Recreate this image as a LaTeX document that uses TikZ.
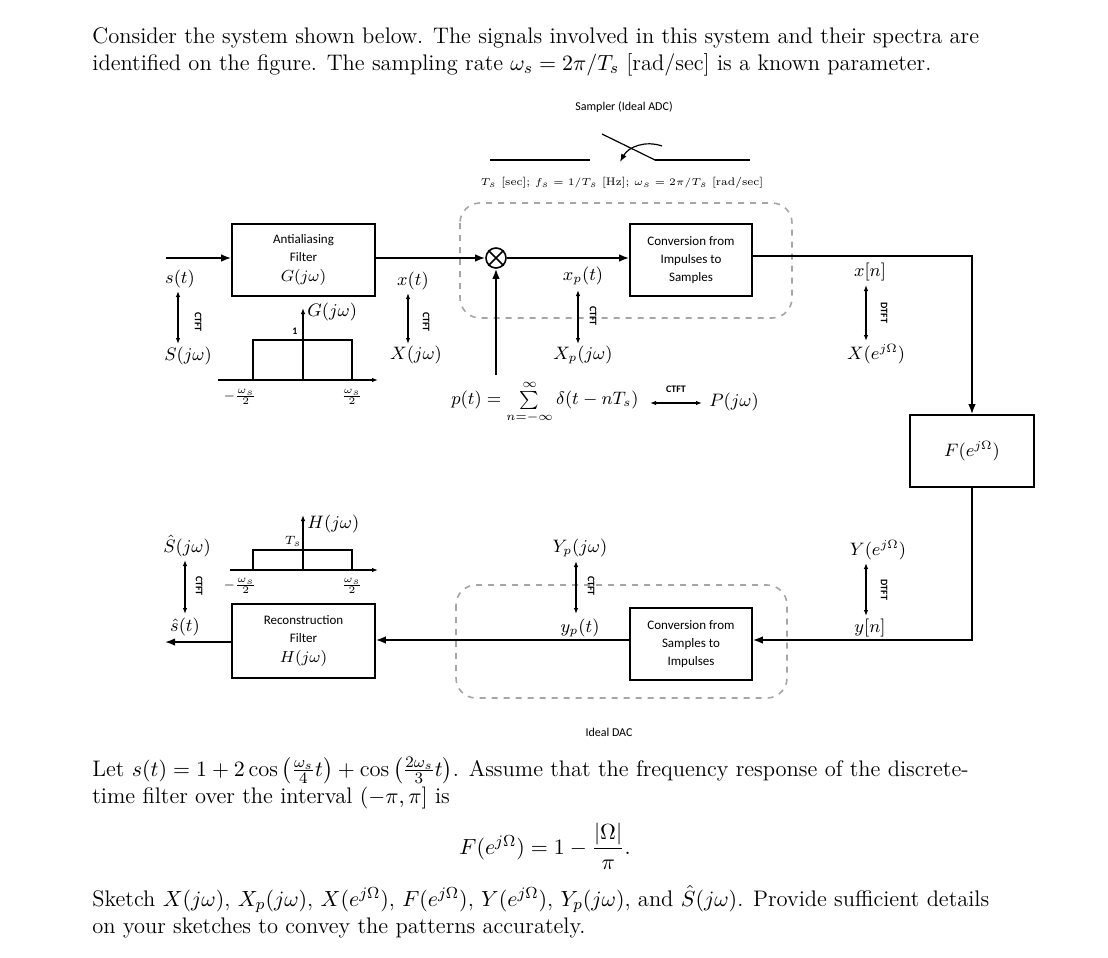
\documentclass[tikz,border=0pt]{standalone}
\usepackage{amsmath}
\usepackage{fontspec}
\newfontfamily\dsans{Carlito}
\usetikzlibrary{arrows.meta}
\tikzset{
  blk/.style={draw, thick, minimum width=71.5pt, minimum height=36pt, align=center, font=\dsans\fontsize{6.5}{9}\selectfont, inner sep=0pt},
  dashbox/.style={draw=gray!70, dashed, thick, rounded corners=10pt},
  sig/.style={thick, -{Latex[length=5pt]}},
  tf/.style={semithick, {Latex[length=3pt]}-{Latex[length=3pt]}},
  lbl/.style={font=\dsans\fontsize{9}{10}\selectfont, inner sep=0pt},
  tflbl/.style={font=\dsans\bfseries\fontsize{5}{6}\selectfont, rotate=-90, inner sep=0pt},
  txt/.style={anchor=base west, inner sep=0pt, font=\fontsize{11.25}{13}\selectfont}
}
\begin{document}
\begin{tikzpicture}[x=0.5pt, y=-0.5pt]
\useasboundingbox (0,0) rectangle (1108,958);
% problem text
\node[txt] (t1) at (92,43) {Consider the system shown below. The signals involved in this system and their spectra are};
\node[txt] (t2) at (92,70) {identified on the figure. The sampling rate $\omega_s=2\pi/T_s$ [rad/sec] is a known parameter.};

% sampler switch
\node[font=\dsans\fontsize{6}{7}\selectfont] (adc) at (624,107) {Sampler (Ideal ADC)};
\draw[thick] (490,160) -- (590,160);
\draw[thick] (655,160) -- (750,160);
\draw[semithick] (602,134) -- (655,160);
\draw[semithick, -{Latex[length=4pt]}] (662,146) to[bend right=40] (620,162);
\node[font=\fontsize{5.5}{7}\selectfont] (ts) at (622,183) {$T_s$ [sec]; $f_s=1/T_s$ [Hz]; $\omega_s=2\pi/T_s$ [rad/sec]};

% dashed groups
\draw[dashbox] (460,203) rectangle (792,318);
\draw[dashbox] (456,585) rectangle (787,698);
\node[font=\dsans\fontsize{6}{7}\selectfont] (dac) at (609,732) {Ideal DAC};

% blocks
\node[blk] (aaf) at (303.5,260) {Antialiasing\\Filter\\[1pt]{\fontsize{8.5}{9}\selectfont$G(j\omega)$}};
\node[blk, minimum width=61pt] (i2s) at (691,260) {Conversion from\\Impulses to\\Samples};
\node[blk, minimum width=62pt] (F) at (972,451) {\fontsize{9}{10}\selectfont$F(e^{j\Omega})$};
\node[blk, minimum width=61pt] (s2i) at (691,644) {Conversion from\\Samples to\\Impulses};
\node[blk, minimum height=37pt] (rec) at (303.5,641) {Reconstruction\\Filter\\[1pt]{\fontsize{8.5}{9}\selectfont$H(j\omega)$}};
\node[draw, circle, thick, minimum size=10pt, inner sep=0pt] (mul) at (496,258) {};
\draw[thick] (mul.north west) -- (mul.south east) (mul.north east) -- (mul.south west);

% signal path
\coordinate (in) at (166,258);
\coordinate (pt) at (496,375);
\coordinate (c1) at (972,256);
\coordinate (c2) at (972,640);
\coordinate (out) at (165,642);
\draw[sig] (in) -- (aaf.west |- in);
\draw[sig] (aaf.east |- mul) -- (mul.west);
\draw[sig] (mul.east) -- (i2s.west |- mul);
\draw[sig] (pt) -- (mul.south);
\draw[sig] (i2s.east |- c1) -- (c1) -- (F.north);
\draw[sig] (F.south) -- (c2) -- (s2i.east |- c2);
\draw[sig] (s2i.west |- c2) -- (rec.east |- c2);
\draw[sig] (rec.west |- out) -- (out);

% transform pairs
\node[lbl] (st) at (180,279) {$s(t)$};
\node[lbl] (Sw) at (188,356) {$S(j\omega)$};
\draw[tf] (178,291) -- (178,344); \node[tflbl] at (198,322) {CTFT};
\node[lbl] (xt) at (413,281) {$x(t)$};
\node[lbl] (Xw) at (416,355) {$X(j\omega)$};
\draw[tf] (408,293) -- (408,344); \node[tflbl] at (426,322) {CTFT};
\node[lbl] (xpt) at (583,276) {$x_p(t)$};
\node[lbl] (Xpw) at (583,355) {$X_p(j\omega)$};
\draw[tf] (578,290) -- (578,344); \node[tflbl] at (593,316) {CTFT};
\node[lbl] (xn) at (870,272) {$x[n]$};
\node[lbl] (XO) at (876,354) {$X(e^{j\Omega})$};
\draw[tf] (866,285) -- (866,341); \node[tflbl] at (884,313) {DTFT};
\node[lbl] (Shw) at (187,546) {$\hat S(j\omega)$};
\node[lbl] (sht) at (185,627) {$\hat s(t)$};
\draw[tf] (185,560) -- (185,614); \node[tflbl] at (199,586) {CTFT};
\node[lbl] (Ypw) at (580,548) {$Y_p(j\omega)$};
\node[lbl] (ypt) at (580,628) {$y_p(t)$};
\draw[tf] (576,561) -- (576,614); \node[tflbl] at (591,586) {CTFT};
\node[lbl] (YO) at (878,550) {$Y(e^{j\Omega})$};
\node[lbl] (yn) at (870,628) {$y[n]$};
\draw[tf] (866,563) -- (866,616); \node[tflbl] at (884,590) {DTFT};

% impulse train
\node[lbl] (pform) at (545,402) {$p(t)=\sum\limits_{n=-\infty}^{\infty}\delta(t-nT_s)$};
\node[font=\dsans\bfseries\fontsize{5}{6}\selectfont] (pct) at (676,389) {CTFT};
\draw[tf] (650,403) -- (702,403);
\node[lbl] (Pw) at (734,402) {$P(j\omega)$};

% G(jw) sketch
\draw[semithick, -{Latex[length=3pt]}] (218,380) -- (378,380);
\draw[semithick, -{Latex[length=3pt]}] (303,380) -- (303,308);
\draw[semithick] (253,380) -- (253,340) -- (352,340) -- (352,380);
\node[font=\dsans\bfseries\fontsize{5}{6}\selectfont] at (295,331) {1};
\node[lbl, anchor=west] at (307,312) {$G(j\omega)$};
\node[font=\fontsize{6}{7}\selectfont] at (240,397) {$-\frac{\omega_s}{2}$};
\node[font=\fontsize{6}{7}\selectfont] at (352,397) {$\frac{\omega_s}{2}$};

% H(jw) sketch
\draw[semithick, -{Latex[length=3pt]}] (230,570) -- (378,570);
\draw[semithick, -{Latex[length=3pt]}] (303,570) -- (303,515);
\draw[semithick] (253,570) -- (253,550) -- (352,550) -- (352,570);
\node[font=\fontsize{6}{7}\selectfont] at (293,541) {$T_s$};
\node[lbl, anchor=west] at (307,524) {$H(j\omega)$};
\node[font=\fontsize{6}{7}\selectfont] at (240,586) {$-\frac{\omega_s}{2}$};
\node[font=\fontsize{6}{7}\selectfont] at (352,586) {$\frac{\omega_s}{2}$};

% problem text below
\node[txt] (t3) at (92,776) {Let $s(t)=1+2\cos\left(\frac{\omega_s}{4}t\right)+\cos\left(\frac{2\omega_s}{3}t\right)$. Assume that the frequency response of the discrete-};
\node[txt] (t4) at (92,803) {time filter over the interval $(-\pi,\pi]$ is};
\node[inner sep=0pt, font=\fontsize{11.25}{13}\selectfont] (t5) at (545,846) {$F(e^{j\Omega})=1-\dfrac{|\Omega|}{\pi}.$};
\node[txt] (t6) at (92,906) {Sketch $X(j\omega)$, $X_p(j\omega)$, $X(e^{j\Omega})$, $F(e^{j\Omega})$, $Y(e^{j\Omega})$, $Y_p(j\omega)$, and $\hat S(j\omega)$. Provide sufficient details};
\node[txt] (t7) at (92,933) {on your sketches to convey the patterns accurately.};
\end{tikzpicture}
\end{document}
